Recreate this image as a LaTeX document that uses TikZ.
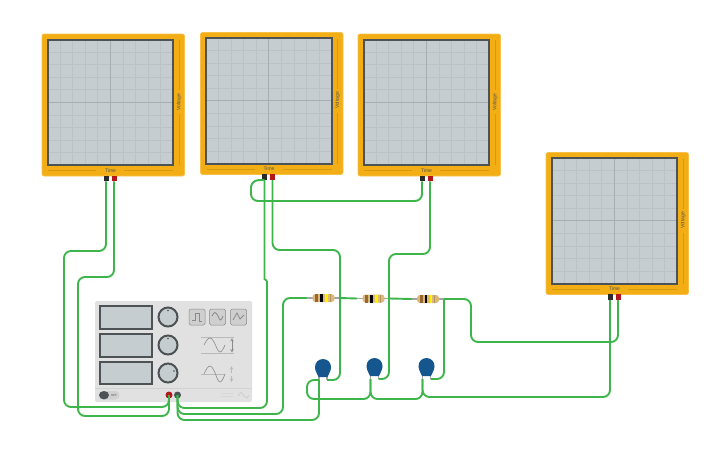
\documentclass[tikz,border=0pt]{standalone}
\usepackage{fontspec}
\setmainfont{Liberation Sans}
\definecolor{scopebody}{HTML}{F2AE14}
\definecolor{scopeedge}{HTML}{F6C04A}
\definecolor{scopetick}{HTML}{D9980F}
\definecolor{screenbg}{HTML}{C5CDD0}
\definecolor{screenline}{HTML}{B9C2C4}
\definecolor{screenmid}{HTML}{A5AEB0}
\definecolor{darkrim}{HTML}{4D5355}
\definecolor{panelbg}{HTML}{E1E1E1}
\definecolor{btnbg}{HTML}{CFCFCF}
\definecolor{iconline}{HTML}{8A8A8A}
\definecolor{wiregreen}{HTML}{3DB54A}
\definecolor{redpin}{HTML}{B3161B}
\definecolor{blackpin}{HTML}{2B2B2B}
\definecolor{varblue}{HTML}{15568F}
\definecolor{resbody}{HTML}{DDB877}
\definecolor{leadgrey}{HTML}{A5A5A5}
\tikzset{
  wire/.style={draw=wiregreen, line width=1.9pt, rounded corners=7pt},
  pin/.style={draw=none, minimum width=5pt, minimum height=5.5pt, inner sep=0pt},
  genpin/.style={circle, draw=none, minimum size=7pt, inner sep=0pt},
  lcd/.style={draw=darkrim, line width=2pt, fill=screenbg},
  knob/.style={draw=darkrim, line width=2pt, fill=screenbg},
  wavebtn/.style={draw=iconline, line width=0.5pt, fill=btnbg, rounded corners=1.5pt, minimum size=16pt, inner sep=0pt},
  icon/.style={draw=iconline, line width=0.6pt},
  lead/.style={draw=leadgrey, line width=1.2pt},
}
% one oscilloscope, #2 #3 = top left corner of the body
\newcommand{\oscope}[3]{
  \begin{scope}[shift={(#2,#3)}]
    \draw[draw=scopeedge, fill=scopebody, line width=0.6pt, rounded corners=2pt] (0,0) rectangle (142.5,142);
    \fill[screenbg] (5.5,5.5) rectangle (131,131);
    \foreach \k in {1,...,9} {
      \draw[screenline, line width=0.6pt] ({5.5+12.55*\k},5.5) -- ({5.5+12.55*\k},131);
      \draw[screenline, line width=0.6pt] (5.5,{5.5+12.55*\k}) -- (131,{5.5+12.55*\k});
    }
    \draw[screenmid, line width=0.7pt] (68.25,5.5) -- (68.25,131);
    \draw[screenmid, line width=0.7pt] (5.5,68.25) -- (131,68.25);
    \draw[darkrim, line width=2pt] (5.5,5.5) rectangle (131,131);
    % ticks along the edges
    \draw[scopetick, line width=0.5pt] (6,136.5) -- (54,136.5) (82,136.5) -- (131,136.5);
    \draw[scopetick, line width=0.5pt] (137,6) -- (137,56) (137,80) -- (137,131);
    \node[font=\fontsize{5}{5}\selectfont, text=darkrim, inner sep=0pt] (#1time) at (68.5,136.5) {Time};
    \node[font=\fontsize{5}{5}\selectfont, text=darkrim, inner sep=0pt, rotate=90] (#1volt) at (137,68) {Voltage};
    \node[pin, fill=blackpin] (#1neg) at (64,144.5) {};
    \node[pin, fill=redpin] (#1pos) at (72,144.5) {};
  \end{scope}
}
% one resistor, #2 #3 = its middle
\newcommand{\resistor}[3]{
  \begin{scope}[shift={(#2,#3)}]
    \draw[lead] (-16,0) -- (16,0);
    \fill[resbody, rounded corners=3pt] (-11,-4) rectangle (11,4);
    \fill[brown!80!black] (-8.5,-4) rectangle (-5.5,4);
    \fill[black] (-3.5,-4) rectangle (-1,4);
    \fill[yellow] (1.5,-4) rectangle (4,4);
    \fill[resbody!80!black] (6,-4) rectangle (7,4);
    \coordinate (#1l) at (-16,0);
    \coordinate (#1r) at (16,0);
  \end{scope}
}
% one varistor, #2 #3 = middle of the disc
\newcommand{\varistor}[3]{
  \begin{scope}[shift={(#2,#3)}]
    \draw[lead] (-4,6) -- (-4,12);
    \draw[lead] (4,6) -- (4,12);
    \fill[varblue] (0,-1) circle (8);
    \fill[varblue] (-7.8,0) .. controls (-7.5,4) and (-5.5,6) .. (-4.5,9) -- (4.5,9) .. controls (5.5,6) and (7.5,4) .. (7.8,0) -- cycle;
    \coordinate (#1a) at (-4,12);
    \coordinate (#1b) at (4,12);
  \end{scope}
}
\begin{document}
\begin{tikzpicture}[x=1pt, y=-1pt]
  \useasboundingbox (0,0) rectangle (725,453);

  % Oscilloscopes
  \oscope{sa}{42}{34}
  \oscope{sb}{200.5}{32.5}
  \oscope{sc}{358}{34}
  \oscope{sd}{546}{152.5}

  % Function generator
  \fill[panelbg, rounded corners=2pt] (95,301) rectangle (252,402);
  \draw[lcd] (99.5,306) rectangle (152,329);
  \draw[lcd] (99.5,334) rectangle (152,357);
  \draw[lcd] (99.5,361.5) rectangle (152,384);
  \draw[knob] (168,317) circle (9.5);
  \draw[knob] (168,345) circle (9.5);
  \draw[knob] (168,373) circle (9.5);
  \fill[darkrim] (168,310.5) circle (0.8) (168,338.5) circle (0.8) (174,371) circle (0.8);
  \node[wavebtn] (btna) at (197,317) {};
  \node[wavebtn] (btnb) at (217.5,317) {};
  \node[wavebtn] (btnc) at (238.5,317) {};
  \draw[icon, line width=0.8pt] (192,320) -- (195,320) -- (195,313) -- (199,313) -- (199,321) -- (202,321);
  \draw[icon, line width=0.8pt] (212,316) sin (215,312.5) cos (218,316) sin (220.5,320) cos (223,316);
  \draw[icon, line width=0.8pt] (233,320) -- (237,313) -- (240,319) -- (244,315);
  % wave sketches
  \draw[icon, draw=iconline!60] (201,337) -- (234,337) (201,353) -- (234,353);
  \draw[icon] (204,345) sin (210,338) cos (215.5,345) sin (220,352) cos (225,345);
  \draw[icon, <->, >=stealth] (232,338) -- (232,352.5);
  \draw[icon, draw=iconline!60] (201,374) -- (225,374);
  \draw[icon] (204,374) sin (210,366) cos (215.5,374) sin (220,382) cos (225,374);
  \draw[icon, ->, >=stealth, draw=iconline!60] (231.5,373) -- (231.5,366);
  \draw[icon, ->, >=stealth, draw=iconline!60] (231.5,376) -- (231.5,382);
  % bottom row
  \draw[panelbg!93!black, line width=0.4pt] (95,388) -- (252,388);
  \fill[white!70!panelbg!85!black, rounded corners=4pt] (99,391) rectangle (119.5,399.5);
  \fill[darkrim] (104,395.2) ellipse (5 and 4.2);
  \node[font=\fontsize{3}{3}\selectfont, text=darkrim, inner sep=0pt] (offlabel) at (114,395.2) {OFF};
  \draw[icon, draw=iconline!45] (238,396) -- (241,392) -- (244,396) -- (247,398) -- (249,395);
  \draw[iconline!35, line width=0.8pt] (221,393) -- (233,393) (221,396.5) -- (233,396.5);
  \node[genpin, fill=redpin] (gpos) at (169,395) {};
  \node[genpin, fill=darkrim] (gneg) at (177.5,395) {};

  % Resistors
  \resistor{ra}{323.5}{298}
  \resistor{rb}{373.5}{298.5}
  \resistor{rc}{428}{299}

  % Varistors
  \varistor{va}{323}{368}
  \varistor{vb}{374.5}{367}
  \varistor{vc}{426.5}{367}

  % Wires to the generator
  \coordinate (sbkink) at (267,281);
  \draw[wire] (sapos.south) -- (114,277) -- (78,277) -- (78,416) -- (169,416) -- (gpos.center);
  \draw[wire] (saneg.south) -- (106,251) -- (64,251) -- (64,407) -- (169,407) -- (gpos.center);
  \draw[wire, sharp corners] (sbneg.south) -- (264.5,279) -- (sbkink);
  \draw[wire] (sbkink) -- (267,408) -- (177.5,408) -- (gneg.center);
  \draw[wire] (gneg.center) -- (177.5,414) -- (283,414) -- (283,298) -- (ral);
  \draw[wire] (gneg.center) -- (177.5,420) -- (319,420) -- (vaa);

  % Wires between the scopes
  \draw[wire] (sbneg.south) -- (251,180.5) -- (251,201) -- (422,201) -- (scneg.south);
  \draw[wire] (sbpos.south) -- (272.5,250) -- (340,250) -- (340,380) -- (vab);
  \draw[wire] (scpos.south) -- (430,254) -- (389,254) -- (389,379) -- (vbb);

  % Resistor chain
  \draw[wire] (rar) -- (rbl);
  \draw[wire] (rbr) -- (rcl);
  \draw[wire] (rcr) -- (444,379) -- (vcb);
  \draw[wire] (rcr) -- (471,299) -- (471,342) -- (618,342) -- (sdpos.south);

  % Varistors back to the last scope
  \draw[wire] (vaa) -- (307,380) -- (307,399) -- (370.5,399) -- (vba);
  \draw[wire] (vba) -- (370.5,399) -- (422.5,399) -- (vca);
  \draw[wire] (vca) -- (422.5,397) -- (610,397) -- (sdneg.south);
\end{tikzpicture}
\end{document}
